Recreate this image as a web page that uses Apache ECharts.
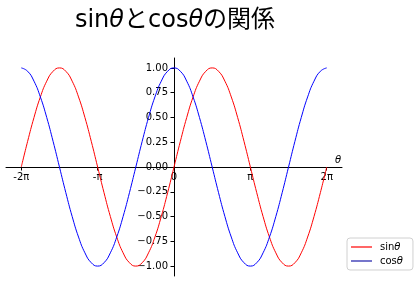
<!DOCTYPE html>
<html>
<head>
<meta charset="utf-8">
<script src="https://cdn.jsdelivr.net/npm/echarts@6/dist/echarts.min.js"></script>
<style>html,body{margin:0;padding:0;background:#fff}#c{width:414px;height:283px}</style>
</head>
<body>
<div id="c"></div>
<script>
// angle in degrees (axis shown in units of π)
const thetaDeg = [-360,-345,-330,-315,-300,-285,-270,-255,-240,-225,-210,-195,-180,-165,-150,-135,-120,-105,-90,-75,-60,-45,-30,-15,0,15,30,45,60,75,90,105,120,135,150,165,180,195,210,225,240,255,270,285,300,315,330,345,360];
const sinValues = [0,0.259,0.5,0.707,0.866,0.966,1,0.966,0.866,0.707,0.5,0.259,0,-0.259,-0.5,-0.707,-0.866,-0.966,-1,-0.966,-0.866,-0.707,-0.5,-0.259,0,0.259,0.5,0.707,0.866,0.966,1,0.966,0.866,0.707,0.5,0.259,0,-0.259,-0.5,-0.707,-0.866,-0.966,-1,-0.966,-0.866,-0.707,-0.5,-0.259,0];
const cosValues = [1,0.966,0.866,0.707,0.5,0.259,0,-0.259,-0.5,-0.707,-0.866,-0.966,-1,-0.966,-0.866,-0.707,-0.5,-0.259,0,0.259,0.5,0.707,0.866,0.966,1,0.966,0.866,0.707,0.5,0.259,0,-0.259,-0.5,-0.707,-0.866,-0.966,-1,-0.966,-0.866,-0.707,-0.5,-0.259,0,0.259,0.5,0.707,0.866,0.966,1];
const xTickValues = [-360,-180,0,180,360];
const xTickLabels = ['-2π','-π','0','π','2π'];
const yTickValues = [-1,-0.75,-0.5,-0.25,0,0.25,0.5,0.75,1];
const seriesNames = ['sinθ','cosθ'];

const font = "'DejaVu Sans','Noto Sans CJK JP',sans-serif";
const chart = echarts.init(document.getElementById('c'));
const pair = (xs, ys) => xs.map((x, i) => [x, ys[i]]);
const GL = 6, GR = 72, GT = 58, GB = 7;

chart.setOption({
  animation: false,
  grid: {left: GL, right: GR, top: GT, bottom: GB, containLabel: false, outerBoundsMode: 'none'},
  xAxis: {
    type: 'value', min: -396, max: 396, position: 'bottom', offset: 0,
    axisLine: {onZero: false, lineStyle: {color: '#000', width: 1}},
    axisTick: {show: true, length: 3.5, lineStyle: {color: '#000'}, customValues: xTickValues},
    axisLabel: {
      color: '#000', fontSize: 10, fontFamily: font, margin: 5,
      customValues: xTickValues,
      formatter: v => xTickLabels[xTickValues.indexOf(v)]
    },
    splitLine: {show: false}
  },
  yAxis: {
    type: 'value', min: -1.1, max: 1.1, position: 'left', offset: 0,
    axisLine: {onZero: false, lineStyle: {color: '#000', width: 1}},
    axisTick: {show: true, length: 3.5, lineStyle: {color: '#000'}, customValues: yTickValues},
    axisLabel: {
      color: '#000', fontSize: 10, fontFamily: font, margin: 6,
      customValues: yTickValues,
      formatter: v => (v < 0 ? '\u2212' : '') + Math.abs(v).toFixed(2)
    },
    splitLine: {show: false}
  },
  legend: {
    orient: 'vertical', left: 347, top: 238,
    padding: [4, 10, 4, 4], itemGap: 4,
    itemWidth: 21, itemHeight: 1.2, icon: 'rect',
    borderColor: '#d0d0d0', borderWidth: 1, borderRadius: 3,
    backgroundColor: '#fff',
    data: [
      {name: seriesNames[0], itemStyle: {color: '#ff0000'}},
      {name: seriesNames[1], itemStyle: {color: '#1a1aa8'}}
    ],
    formatter: n => n.replace('θ', '{i|θ}'),
    textStyle: {
      color: '#000', fontSize: 10, fontFamily: font, padding: [0, 0, 0, 3],
      rich: {i: {fontStyle: 'italic', fontSize: 10, fontFamily: font, color: '#000'}}
    }
  },
  graphic: [
    {
      type: 'text', x: 175, y: 21,
      style: {
        text: '{a|sin}{b|θ}{a|とcos}{b|θ}{a|の関係}',
        align: 'center', verticalAlign: 'middle',
        rich: {
          a: {fontSize: 24, fontFamily: font, fill: '#000'},
          b: {fontSize: 24, fontFamily: font, fontStyle: 'italic', fill: '#000'}
        }
      }
    },
    {
      type: 'text', x: 338, y: 160,
      style: {text: 'θ', fontSize: 10, fontFamily: font, fontStyle: 'italic', fill: '#000', align: 'center', verticalAlign: 'middle'}
    }
  ],
  series: [
    {name: seriesNames[0], type: 'line', data: pair(thetaDeg, sinValues), showSymbol: false, smooth: 0.5,
     lineStyle: {color: '#ff0000', width: 1}, itemStyle: {color: '#ff0000'}},
    {name: seriesNames[1], type: 'line', data: pair(thetaDeg, cosValues), showSymbol: false, smooth: 0.5,
     lineStyle: {color: '#0000ff', width: 1}, itemStyle: {color: '#0000ff'}}
  ]
});

// move the spines to the data origin (matplotlib "centered" spines)
const origin = chart.convertToPixel({gridIndex: 0}, [0, 0]);
const H = chart.getHeight();
chart.setOption({
  xAxis: {offset: -((H - GB) - origin[1])},
  yAxis: {offset: -(origin[0] - GL)}
});
</script>
</body>
</html>
